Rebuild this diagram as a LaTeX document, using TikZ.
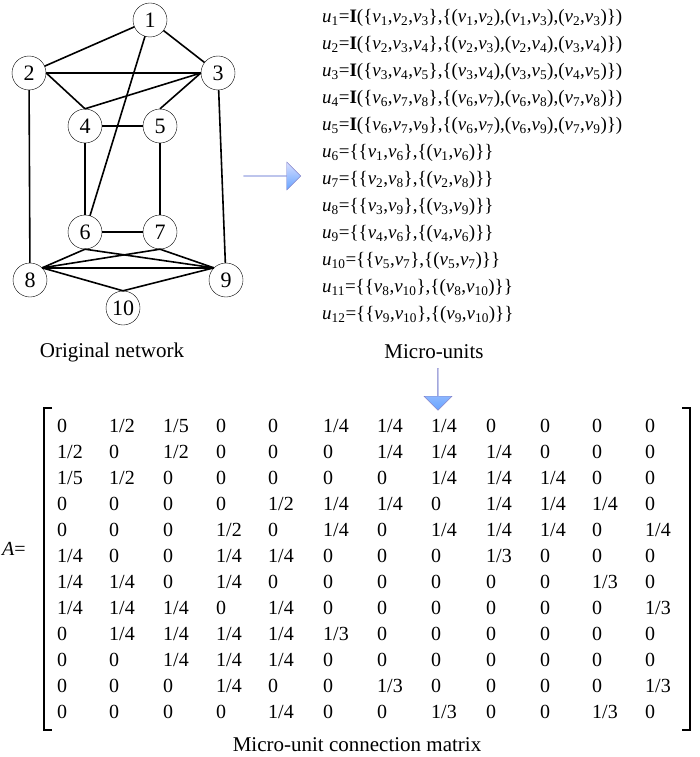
\documentclass[tikz,border=0pt]{standalone}
\usepackage{fontspec}
\setmainfont{Liberation Serif}
\usetikzlibrary{shapes.arrows}
\newcommand{\vv}[1]{\textit{v}\textsubscript{#1}}
\newcommand{\uu}[1]{\textit{u}\textsubscript{#1}}
\begin{document}
\begin{tikzpicture}[x=1pt,y=-1pt,
  vtx/.style={circle,draw,thin,fill=white,minimum size=34pt,inner sep=0pt,font=\fontsize{22}{22}\selectfont},
  edge/.style={line width=1.6pt},
  mu/.style={anchor=west,font=\fontsize{19}{19}\selectfont,inner sep=0pt},
  capt/.style={font=\fontsize{21}{21}\selectfont},
  mcell/.style={anchor=west,font=\fontsize{20}{20}\selectfont,inner sep=0pt},
  bluearrow/.style={single arrow,draw=blue!40!gray!70,top color=cyan!15!blue!15!white,bottom color=cyan!40!blue!60!white,single arrow head extend=6pt,inner sep=0pt}]
\useasboundingbox (0,0) rectangle (699,757);
\coordinate (n1) at (150,20);
\draw[edge] (150,20) -- (29,73); \draw[edge] (150,20) -- (218,73); \draw[edge] (150,20) -- (85,232);
\node[vtx] (n1) at (150,20) {1};
\node[vtx] (n2) at (29,73) {2};
\node[vtx] (n3) at (218,73) {3};
\node[vtx] (n4) at (85,126) {4};
\node[vtx] (n5) at (160,126) {5};
\node[vtx] (n6) at (85,232) {6};
\node[vtx] (n7) at (160,232) {7};
\node[vtx] (n8) at (30,280) {8};
\node[vtx] (n9) at (226,280) {9};
\node[vtx] (n10) at (123,308) {10};
\draw[edge] (n2.east) -- (n3.west);
\draw[edge] (n2.east) -- (n4.north);
\draw[edge] (n2) -- (n8);
\draw[edge] (n3.west) -- (n4.north);
\draw[edge] (n3.west) -- (n5.north);
\draw[edge] (n3) -- (n9);
\draw[edge] (n4) -- (n5);
\draw[edge] (n4) -- (n6);
\draw[edge] (n5) -- (n7);
\draw[edge] (n6) -- (n7);
\draw[edge] (n6.south) -- (n8.north east);
\draw[edge] (n6.south) -- (n9.north west);
\draw[edge] (n7.south) -- (n8.north east);
\draw[edge] (n7.south) -- (n9.north west);
\draw[edge] (n8.north east) -- (n9.north west);
\draw[edge] (n8.north east) -- (n10.north);
\draw[edge] (n9.north west) -- (n10.north);
\node[capt] (c1) at (112,352) {Original network};
\node[bluearrow,minimum height=57pt,minimum width=28pt] (ar1) at (272,176) {};
\node[mu] (u1) at (322,18) {\uu{1}=\textbf{I}(\{\vv{1},\vv{2},\vv{3}\},\{(\vv{1},\vv{2}),(\vv{1},\vv{3}),(\vv{2},\vv{3})\})};
\node[mu] (u2) at (322,45) {\uu{2}=\textbf{I}(\{\vv{2},\vv{3},\vv{4}\},\{(\vv{2},\vv{3}),(\vv{2},\vv{4}),(\vv{3},\vv{4})\})};
\node[mu] (u3) at (322,72) {\uu{3}=\textbf{I}(\{\vv{3},\vv{4},\vv{5}\},\{(\vv{3},\vv{4}),(\vv{3},\vv{5}),(\vv{4},\vv{5})\})};
\node[mu] (u4) at (322,99) {\uu{4}=\textbf{I}(\{\vv{6},\vv{7},\vv{8}\},\{(\vv{6},\vv{7}),(\vv{6},\vv{8}),(\vv{7},\vv{8})\})};
\node[mu] (u5) at (322,126) {\uu{5}=\textbf{I}(\{\vv{6},\vv{7},\vv{9}\},\{(\vv{6},\vv{7}),(\vv{6},\vv{9}),(\vv{7},\vv{9})\})};
\node[mu] (u6) at (322,153) {\uu{6}=\{\{\vv{1},\vv{6}\},\{(\vv{1},\vv{6})\}\}};
\node[mu] (u7) at (322,180) {\uu{7}=\{\{\vv{2},\vv{8}\},\{(\vv{2},\vv{8})\}\}};
\node[mu] (u8) at (322,207) {\uu{8}=\{\{\vv{3},\vv{9}\},\{(\vv{3},\vv{9})\}\}};
\node[mu] (u9) at (322,234) {\uu{9}=\{\{\vv{4},\vv{6}\},\{(\vv{4},\vv{6})\}\}};
\node[mu] (u10) at (322,261) {\uu{10}=\{\{\vv{5},\vv{7}\},\{(\vv{5},\vv{7})\}\}};
\node[mu] (u11) at (322,288) {\uu{11}=\{\{\vv{8},\vv{10}\},\{(\vv{8},\vv{10})\}\}};
\node[mu] (u12) at (322,315) {\uu{12}=\{\{\vv{9},\vv{10}\},\{(\vv{9},\vv{10})\}\}};
\node[capt] (c2) at (434,352) {Micro-units};
\node[bluearrow,minimum height=42pt,minimum width=28pt,rotate=-90] (ar2) at (438,389) {};
% matrix
\node[mcell] (A) at (2,549) {\textit{A}=};
\draw[line width=1.6pt] (52,408) -- (44,408) -- (44,730) -- (52,730);
\draw[line width=1.6pt] (682,408) -- (690,408) -- (690,730) -- (682,730);
\foreach \row [count=\r] in {
 {0,1/2,1/5,0,0,1/4,1/4,1/4,0,0,0,0},
 {1/2,0,1/2,0,0,0,1/4,1/4,1/4,0,0,0},
 {1/5,1/2,0,0,0,0,0,1/4,1/4,1/4,0,0},
 {0,0,0,0,1/2,1/4,1/4,0,1/4,1/4,1/4,0},
 {0,0,0,1/2,0,1/4,0,1/4,1/4,1/4,0,1/4},
 {1/4,0,0,1/4,1/4,0,0,0,1/3,0,0,0},
 {1/4,1/4,0,1/4,0,0,0,0,0,0,1/3,0},
 {1/4,1/4,1/4,0,1/4,0,0,0,0,0,0,1/3},
 {0,1/4,1/4,1/4,1/4,1/3,0,0,0,0,0,0},
 {0,0,1/4,1/4,1/4,0,0,0,0,0,0,0},
 {0,0,0,1/4,0,0,1/3,0,0,0,0,1/3},
 {0,0,0,0,1/4,0,0,1/3,0,0,1/3,0}} {
  \foreach \val [count=\c] in \row {
    \pgfmathsetmacro{\xx}{{57,109,163,216,268,323,377,431,486,540,592,645}[\c-1]}
    \node[mcell] (m\r-\c) at (\xx,{426+26*(\r-1)}) {\val};
  }
}
\node[capt] (c3) at (357,745) {Micro-unit connection matrix};
\end{tikzpicture}
\end{document}
